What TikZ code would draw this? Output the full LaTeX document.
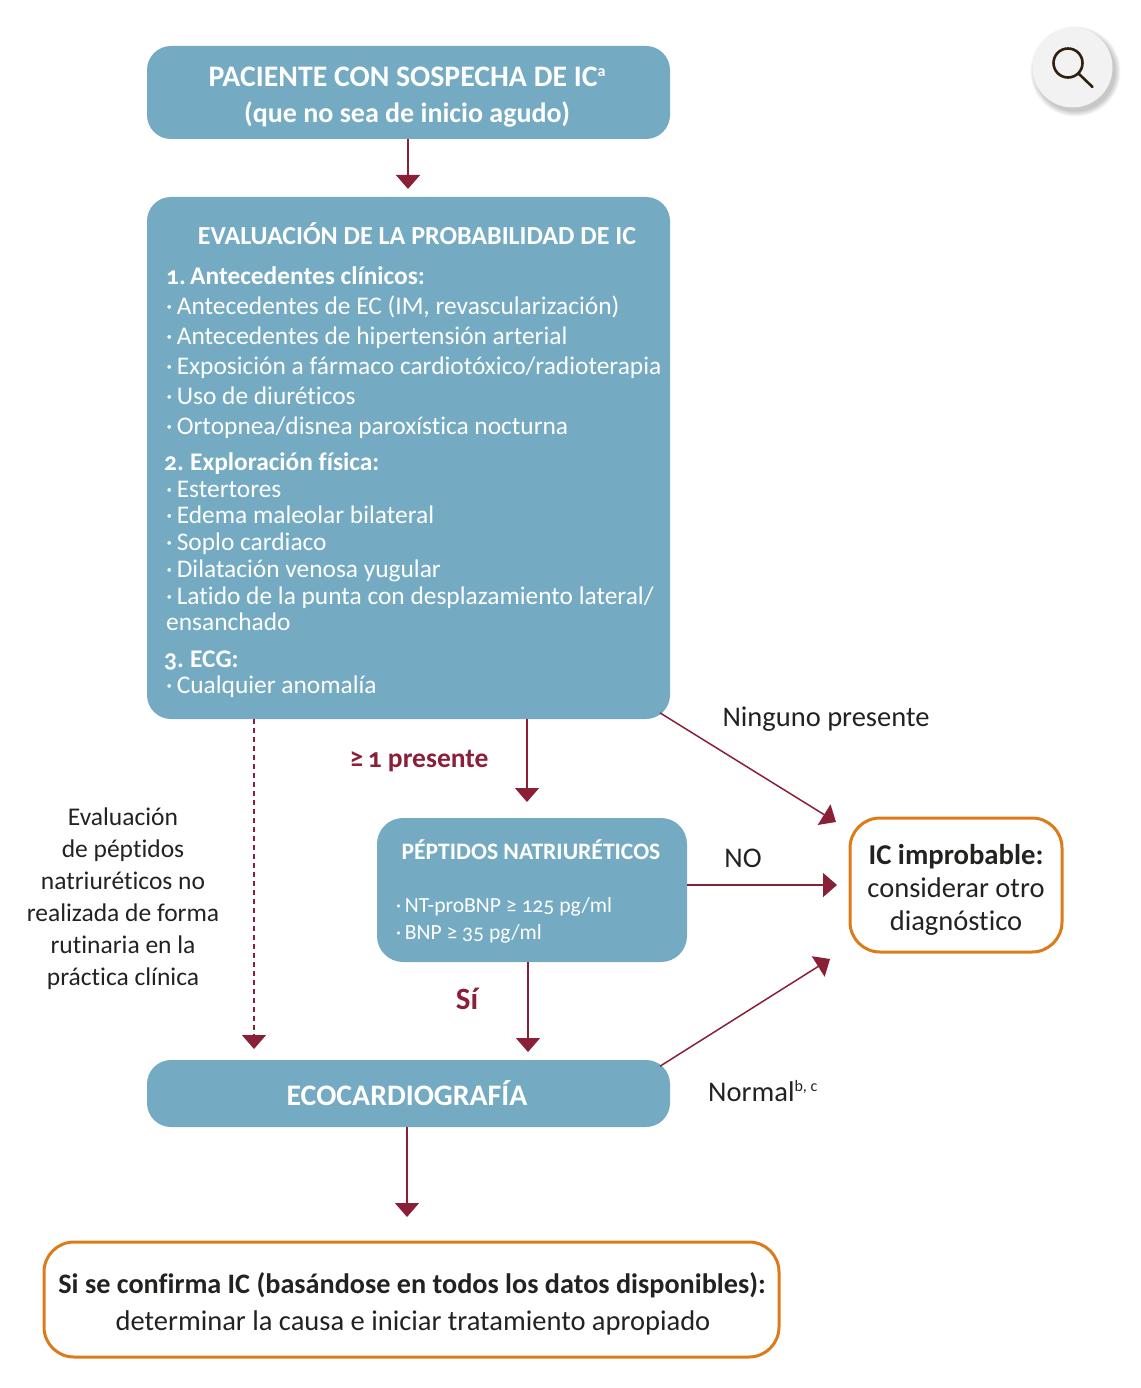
\documentclass[tikz,border=0pt]{standalone}
\usepackage{fontspec}
\setmainfont{Carlito}[Numbers=OldStyle,Ligatures=NoCommon]
\usetikzlibrary{arrows.meta}
\definecolor{azul}{HTML}{74ABC2}
\definecolor{naranja}{HTML}{DC7B1A}
\definecolor{granate}{HTML}{8A1F38}
\definecolor{tinta}{HTML}{222221}
\newcommand{\indice}[1]{\raisebox{10pt}{\fontsize{16}{16}\selectfont #1}}
\tikzset{
  cajaazul/.style={fill=azul,rounded corners=24pt,inner sep=0pt},
  cajanaranja/.style={draw=naranja,line width=3pt,fill=white,rounded corners=30pt,inner sep=0pt},
  flecha/.style={draw=granate,line width=1.5pt,-{Triangle[length=14pt,width=24pt]}},
  titulo/.style={text=white,inner sep=0pt,anchor=base,font=\fontsize{29.8}{30}\selectfont\bfseries},
  cabecera/.style={text=white,inner sep=0pt,anchor=base west,font=\fontsize{25.4}{30}\selectfont\bfseries},
  lista/.style={text=white,inner sep=0pt,anchor=base west,font=\fontsize{25.4}{30}\selectfont},
  rotulo/.style={text=tinta,inner sep=0pt,anchor=base,font=\fontsize{28.5}{30}\selectfont},
  nota/.style={rotulo,font=\fontsize{25.5}{30}\selectfont},
}
\begin{document}
\begin{tikzpicture}[x=1pt,y=-1pt]
\useasboundingbox (0,0) rectangle (1140,1388);

% lupa
\foreach \r in {45,44,43,42,41,40}
  \fill[black,opacity=.04] (1075.5,71.5) circle (\r);
\fill[black!5] (1072.5,67.5) circle (40);
\draw[draw=black!75!brown,line width=2.6pt] (1068,63) circle (14.5);
\draw[draw=black!75!brown,line width=2.6pt,line cap=round] (1079,74) -- (1092.5,87);

% cajas
\node[cajaazul,minimum width=523pt,minimum height=93pt] (paciente) at (408.5,92.5) {};
\node[titulo] (paciente1) at (407,87) {PACIENTE CON SOSPECHA DE IC\indice{a}};
\node[titulo,font=\fontsize{28}{30}\selectfont\bfseries] (paciente2) at (407,123) {(que no sea de inicio agudo)};

\node[cajaazul,minimum width=523pt,minimum height=522pt] (evaluacion) at (408.5,458) {};
\node[titulo,font=\fontsize{26}{30}\selectfont\bfseries] (evaltitulo) at (417,244) {EVALUACIÓN DE LA PROBABILIDAD DE IC};
\node[cabecera] (num1) at (166,284) {1.};
\node[cabecera] (head1) at (190,284) {Antecedentes clínicos:};
\node[lista] (a1) at (166,314) {·\,Antecedentes de EC (IM, revascularización)};
\node[lista] (a2) at (166,344) {·\,Antecedentes de hipertensión arterial};
\node[lista] (a3) at (166,374) {·\,Exposición a fármaco cardiotóxico/radioterapia};
\node[lista] (a4) at (166,404) {·\,Uso de diuréticos};
\node[lista] (a5) at (166,434) {·\,Ortopnea/disnea paroxística nocturna};
\node[cabecera] (num2) at (164,470) {2.};
\node[cabecera] (head2) at (190,470) {Exploración física:};
\node[lista] (b1) at (166,497) {·\,Estertores};
\node[lista] (b2) at (166,523) {·\,Edema maleolar bilateral};
\node[lista] (b3) at (166,550) {·\,Soplo cardiaco};
\node[lista] (b4) at (166,577) {·\,Dilatación venosa yugular};
\node[lista] (b5) at (166,604) {·\,Latido de la punta con desplazamiento lateral/};
\node[lista] (b6) at (166,630) {ensanchado};
\node[cabecera] (num3) at (164,667) {3.};
\node[cabecera] (head3) at (190,667) {ECG:};
\node[lista] (c1) at (166,693) {·\,Cualquier anomalía};

\node[cajaazul,rounded corners=26pt,minimum width=310pt,minimum height=144pt] (peptidos) at (532,890) {};
\node[titulo,font=\fontsize{23.6}{30}\selectfont\bfseries] (peptitulo) at (531,859) {PÉPTIDOS NATRIURÉTICOS};
\node[lista,font=\fontsize{21.6}{30}\selectfont] (p1) at (392,912) {\,·\,NT-proBNP ≥ 125 pg/ml};
\node[lista,font=\fontsize{21.6}{30}\selectfont] (p2) at (392,939) {\,·\,BNP ≥ 35 pg/ml};

\node[cajaazul,minimum width=523pt,minimum height=67pt] (eco) at (408.5,1093.5) {};
\node[titulo] (ecotexto) at (407,1105) {ECOCARDIOGRAFÍA};

\node[cajanaranja,minimum width=212pt,minimum height=134pt] (improbable) at (956,885) {};
\node[rotulo,font=\fontsize{28.7}{30}\selectfont\bfseries] (imp1) at (956,864) {IC improbable:};
\node[rotulo] (imp2) at (956,897) {considerar otro};
\node[rotulo] (imp3) at (956,930) {diagnóstico};

\node[cajanaranja,minimum width=735pt,minimum height=115pt] (confirma) at (411.5,1299.5) {};
\node[rotulo,font=\fontsize{28.2}{30}\selectfont\bfseries] (conf1) at (412,1293) {Si se confirma IC (basándose en todos los datos disponibles):};
\node[rotulo] (conf2) at (413,1330) {determinar la causa e iniciar tratamiento apropiado};

% rotulos
\node[rotulo] (ninguno) at (826,726) {Ninguno presente};
\node[rotulo,text=granate,font=\fontsize{27.5}{30}\selectfont\bfseries] (presente) at (419,767) {≥\,1 presente};
\node[rotulo] (no) at (743,867) {NO};
\node[rotulo,text=granate,font=\fontsize{31}{30}\selectfont\bfseries] (si) at (467,1009) {Sí};
\node[rotulo,anchor=base west] (normal) at (708,1101) {Normal\indice{b, c}};
\node[nota] (nota1) at (123,825) {Evaluación};
\node[nota] (nota2) at (123,857) {de péptidos};
\node[nota] (nota3) at (123,889) {natriuréticos no};
\node[nota] (nota4) at (123,921) {realizada de forma};
\node[nota] (nota5) at (123,953) {rutinaria en la};
\node[nota] (nota6) at (123,985) {práctica clínica};

% extremos libres
\coordinate (ev1) at (408,189);
\coordinate (ev2) at (254,1049);
\coordinate (ev3) at (527,802);
\coordinate (ev4) at (528,1052);
\coordinate (ev5) at (407,1217);
\coordinate (ev6) at (836,822);
\coordinate (ev7) at (837,885);
\coordinate (ev8) at (830,959);

% conectores
\draw[flecha] (paciente.south -| ev1) -- (ev1);
\draw[flecha,dash pattern=on 5pt off 4pt] (evaluacion.south -| ev2) -- (ev2);
\draw[flecha] (evaluacion.south -| ev3) -- (ev3);
\draw[flecha] (peptidos.south -| ev4) -- (ev4);
\draw[flecha] (eco.south -| ev5) -- (ev5);
\draw[flecha,shorten <=-12pt] (evaluacion.south east) -- (ev6);
\draw[flecha] (peptidos.east |- ev7) -- (ev7);
\draw[flecha,shorten <=-12pt] (eco.north east) -- (ev8);
\end{tikzpicture}
\end{document}
